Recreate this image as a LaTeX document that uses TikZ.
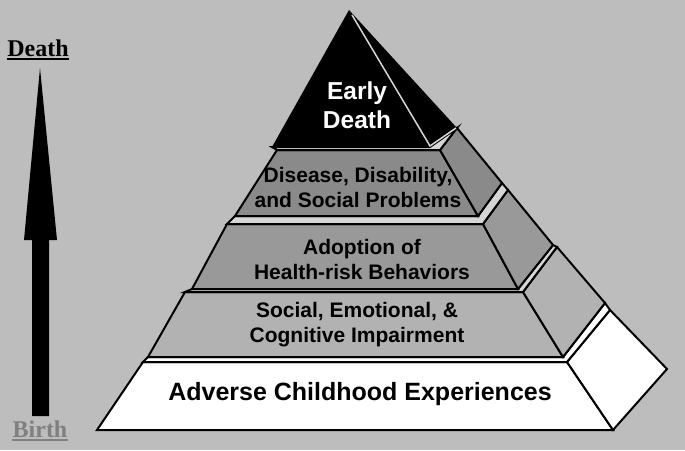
\documentclass[tikz,border=0pt]{standalone}
\usepackage{fontspec}
\setmainfont{Liberation Serif}
\setsansfont{Liberation Sans}
\definecolor{bgray}{gray}{0.74}
\definecolor{topgray}{gray}{0.84}
\definecolor{socgray}{gray}{0.70}
\definecolor{riskgray}{gray}{0.60}
\definecolor{disgray}{gray}{0.54}
\definecolor{birthgray}{gray}{0.50}
\begin{document}
\begin{tikzpicture}[x=1pt,y=-1pt,
  face/.style={draw=black,line width=2pt},
  lbl/.style={align=center,inner sep=0pt},
  big/.style={font=\sffamily\bfseries\fontsize{21}{25}\selectfont},
  end/.style={font=\bfseries\fontsize{24}{28}\selectfont,anchor=base,inner sep=0pt}]
\fill[bgray] (0,0) rectangle (685,450);
\useasboundingbox (0,0) rectangle (685,450);
% time arrow
\fill[black] (32,416) -- (32,240) -- (24,240) -- (40,68) -- (57,240) -- (49,240) -- (49,416) -- cycle;
\node[end] (death) at (38,56) {Death};
\node[end,text=birthgray] (birth) at (40,437) {Birth};
\draw[line width=1.2pt] ([yshift=-3pt]death.base west) -- ([yshift=-3pt]death.base east);
\draw[birthgray,line width=1.2pt] ([yshift=-3pt]birth.base west) -- ([yshift=-3pt]birth.base east);
% base layer
\filldraw[face,fill=white] (97,430) -- (613,430) -- (567,362) -- (143,362) -- cycle;
\filldraw[face,fill=white] (567,362) -- (613,430) -- (667,369) -- (610,310) -- cycle;
\filldraw[face,fill=white] (143,362) -- (567,362) -- (610,310) -- (605,303) -- (563,357) -- (148,357) -- cycle;
% impairment layer
\filldraw[face,fill=socgray] (148,357) -- (563,357) -- (523,292) -- (185,292) -- cycle;
\filldraw[face,fill=socgray] (523,292) -- (563,357) -- (605,303) -- (557,247) -- cycle;
\filldraw[face,fill=topgray] (185,292) -- (523,292) -- (557,247) -- (553,245) -- (518,289) -- (192,289) -- cycle;
% risk layer
\filldraw[face,fill=riskgray] (192,289) -- (518,289) -- (483,224) -- (227,224) -- cycle;
\filldraw[face,fill=riskgray] (483,224) -- (518,289) -- (553,245) -- (508,190) -- cycle;
\filldraw[face,fill=topgray] (227,224) -- (483,224) -- (508,190) -- (502,183) -- (478,216) -- (235,216) -- cycle;
% disease layer
\filldraw[face,fill=disgray] (235,216) -- (478,216) -- (440,150) -- (277,150) -- cycle;
\filldraw[face,fill=disgray] (440,150) -- (478,216) -- (502,183) -- (457,128) -- cycle;
\filldraw[face,fill=topgray] (277,150) -- (440,150) -- (457,128) -- (430,147) -- (272,147) -- cycle;
% top
\fill[black] (272,147) -- (430,147) -- (349,10) -- cycle;
\fill[black] (349,10) -- (430,147) -- (457,128) -- cycle;
\draw[topgray,line width=1.5pt] (352,15) -- (430,146) -- (456,128);
\node[lbl,big,text=white,font=\sffamily\bfseries\fontsize{24.5}{29}\selectfont] (early) at (357,105.7) {Early\\Death};
\node[lbl,big] (dis) at (358,187.5) {Disease, Disability,\\and Social Problems};
\node[lbl,big] (risk) at (362,259.8) {Adoption of\\Health-risk Behaviors};
\node[lbl,big] (imp) at (357,324.6) {Social, Emotional, \&\\Cognitive Impairment};
\node[lbl,font=\sffamily\bfseries\fontsize{25}{30}\selectfont,anchor=base] (ace) at (360,400) {Adverse Childhood Experiences};
\end{tikzpicture}
\end{document}
